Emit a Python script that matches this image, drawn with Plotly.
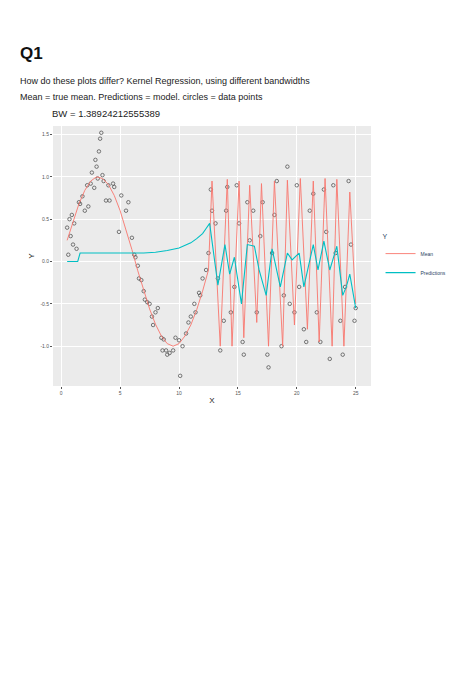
import plotly.graph_objects as go

# data points (circles)
pts_x = [0.5, 0.6, 0.7, 0.8, 0.9, 1.0, 1.1, 1.3, 1.5, 1.6, 1.8, 2.0, 2.2, 2.3, 2.5, 2.6, 2.8, 2.9, 3.0, 3.1,
         3.2, 3.3, 3.4, 3.5, 3.6, 3.8, 4.0, 4.1, 4.4, 4.5, 4.9, 5.1, 5.5, 5.7, 6.0, 6.2, 6.3, 6.5, 6.6, 6.8,
         7.0, 7.1, 7.3, 7.5, 7.7, 7.8, 8.0, 8.2, 8.5, 8.6, 8.7, 8.9, 9.0, 9.2, 9.5, 9.7, 10.0, 10.1, 10.3, 10.6,
         10.8, 11.0, 11.3, 11.4, 11.7, 11.8, 12.0, 12.3, 12.5, 12.7,
         12.8, 13.1, 13.3, 13.5, 13.8, 14.0, 14.1, 14.4, 14.7, 14.9, 15.1, 15.4, 15.5, 15.8, 16.0, 16.3, 16.6,
         16.9, 17.1, 17.5, 17.6, 17.9, 18.1, 18.3, 18.7, 18.9, 19.2, 19.4, 19.8, 20.0, 20.2, 20.6, 20.8, 21.1,
         21.4, 21.7, 22.0, 22.3, 22.5, 22.8, 23.1, 23.3, 23.7, 23.9, 24.1, 24.4, 24.6, 24.9, 25.0]
pts_y = [0.4, 0.08, 0.5, 0.3, 0.55, 0.2, 0.45, 0.15, 0.7, 0.68, 0.77, 0.6, 0.9, 0.65, 0.92, 1.05, 0.87, 1.2, 1.12, 0.98,
         1.3, 1.45, 1.52, 1.02, 0.95, 0.72, 0.9, 0.72, 0.92, 0.88, 0.35, 0.78, 0.6, 0.7, 0.28, 0.08, 0.05, -0.05, -0.2, -0.22,
         -0.35, -0.45, -0.48, -0.5, -0.65, -0.75, -0.6, -0.55, -0.9, -1.05, -0.92, -1.05, -1.1, -1.08, -1.05, -0.9, -0.93, -1.35, -1.0, -0.85,
         -0.72, -0.65, -0.5, -0.6, -0.37, -0.4, -0.2, -0.1, 0.1, 0.85,
         0.6, 0.45, -0.2, -1.05, -0.7, 0.6, 0.88, -0.6, -0.3, 0.9, 0.45, -0.95, -1.1, 0.7, 0.25, 0.6, -0.6,
         0.3, 0.7, -1.1, -1.25, 0.1, 0.55, 0.95, -1.0, -0.4, 1.12, -0.5, -0.6, 0.9, -0.3, -0.8, -0.95, 0.6,
         0.8, -0.6, -0.95, 0.85, 0.35, -1.15, 0.9, 0.1, -0.7, -1.1, -0.3, 0.95, 0.2, -0.7, -0.55]

# true mean
mean_x = [0.5, 1.0, 1.5, 2.0, 2.5, 3.0, 3.5, 4.0, 4.5, 5.0, 5.5, 6.0, 6.5, 7.0, 7.5, 8.0, 8.5, 9.0, 9.5, 10.0,
          10.5, 11.0, 11.5, 12.0, 12.5,
          12.8, 13.5, 14.1, 14.5, 15.1, 15.5, 16.0, 16.6, 17.0, 17.6, 18.1, 18.8, 19.2, 19.8, 20.3, 20.9,
          21.4, 21.9, 22.4, 23.0, 23.4, 24.0, 24.5, 25.0]
mean_y = [0.25, 0.48, 0.68, 0.84, 0.95, 1.0, 0.98, 0.91, 0.78, 0.6, 0.38, 0.14, -0.11, -0.35, -0.56, -0.74, -0.88, -0.97, -1.0, -0.97,
          -0.88, -0.75, -0.57, -0.35, -0.1,
          0.95, -1.0, 0.97, -1.0, 0.95, -0.9, 0.9, -0.72, 0.92, -1.0, 0.95, -1.0, 0.96, -0.75, 0.98, -0.8,
          0.95, -0.95, 0.98, -1.0, 0.97, -1.0, 0.82, -0.5]

# model predictions
pred_x = [0.5, 1.4, 1.6, 3.0, 5.0, 7.0, 8.0, 9.0, 10.0, 11.0, 11.5, 12.0, 12.3, 12.6,
          13.3, 13.9, 14.3, 14.7, 15.3, 15.8, 16.4, 16.8, 17.4, 17.9, 18.6, 19.2, 19.6, 20.2, 20.6,
          21.4, 21.8, 22.3, 22.8, 23.4, 23.9, 24.2, 24.5, 25.0]
pred_y = [0.0, 0.0, 0.1, 0.1, 0.1, 0.1, 0.11, 0.13, 0.16, 0.22, 0.27, 0.33, 0.39, 0.45,
          -0.28, 0.2, -0.15, 0.05, -0.5, 0.2, 0.18, -0.1, -0.4, 0.15, -0.3, 0.1, 0.02, 0.1, -0.3,
          0.2, -0.1, 0.24, -0.1, 0.18, -0.4, -0.3, -0.15, -0.55]

fig = go.Figure()
fig.add_trace(go.Scatter(x=pts_x, y=pts_y, mode="markers", showlegend=False,
                         marker=dict(size=3.5, color="rgba(0,0,0,0)", line=dict(color="#555", width=0.8))))
fig.add_trace(go.Scatter(x=mean_x, y=mean_y, mode="lines", name="Mean",
                         line=dict(color="#F8766D", width=0.9)))
fig.add_trace(go.Scatter(x=pred_x, y=pred_y, mode="lines", name="Predictions",
                         line=dict(color="#00BFC4", width=1.1)))

axis = dict(gridcolor="white", showline=False, zeroline=False, ticks="outside", ticklen=2,
            tickcolor="#555", tickfont=dict(size=5, color="#555"))
fig.update_xaxes(axis, range=[-0.7, 26.3], tickvals=[0, 5, 10, 15, 20, 25],
                 title=dict(text="X", font=dict(size=8, color="#222"), standoff=2))
fig.update_yaxes(axis, range=[-1.47, 1.6], tickvals=[-1.0, -0.5, 0.0, 0.5, 1.0, 1.5],
                 ticktext=["-1.0", "-0.5", "0.0", "0.5", "1.0", "1.5"],
                 title=dict(text="Y", font=dict(size=8, color="#222"), standoff=4))

L, R, T, B = 45, 92, 118, 322
fig.update_layout(
    width=455, height=700,
    margin=dict(l=L, r=R, t=T, b=B, autoexpand=False),
    paper_bgcolor="white", plot_bgcolor="#EBEBEB",
    font=dict(family="Liberation Sans, Arial"),
    legend=dict(x=1.03, y=0.6, yanchor="top", title=dict(text="Y", font=dict(size=7)),
                font=dict(size=5), bgcolor="rgba(0,0,0,0)", itemwidth=30),
    annotations=[
        dict(text="<b>Q1</b>", x=10, y=45, showarrow=False, font=dict(size=17, color="#111")),
        dict(text="How do these plots differ? Kernel Regression, using different bandwidths",
             x=10, y=73, showarrow=False, font=dict(size=9, color="#222")),
        dict(text="Mean = true mean. Predictions = model. circles = data points",
             x=10, y=89, showarrow=False, font=dict(size=9, color="#222")),
        dict(text="BW = 1.38924212555389", x=42, y=106, showarrow=False, font=dict(size=9.5, color="#222")),
    ],
)
# place text annotations in pixel coordinates
for a in fig.layout.annotations:
    a.xref = "paper"; a.yref = "paper"; a.xanchor = "left"; a.yanchor = "middle"
    a.x = (a.x - L) / (455 - L - R)
    a.y = 1 - (a.y - T) / (700 - T - B)

fig.write_html("out.html")
